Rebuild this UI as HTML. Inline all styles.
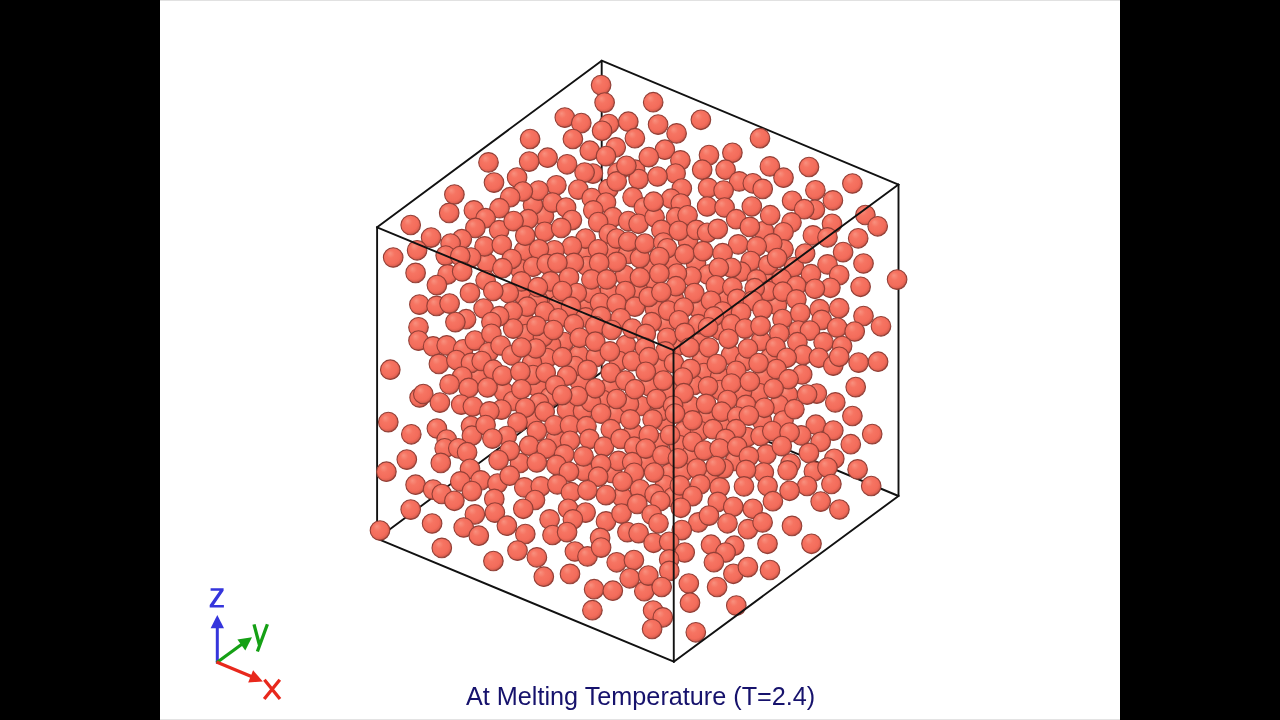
<!DOCTYPE html>
<html><head><meta charset="utf-8"><style>
html,body{margin:0;padding:0;background:#000;width:1280px;height:720px;overflow:hidden}
#v{position:absolute;left:160px;top:0;width:960px;height:718px;background:#fff;border-top:1px solid #e1e1e1;border-bottom:1px solid #e3e3e3}
svg{position:absolute;left:0;top:0}
#w{position:absolute;left:0;top:0;width:1280px;height:720px;filter:blur(0.4px)}
#cap{position:absolute;left:466px;top:681px;font-family:"Liberation Sans",sans-serif;font-size:25.5px;line-height:30px;color:#16126c;white-space:nowrap;transform:scaleX(0.989);transform-origin:0 0}
</style></head><body>
<div id="w"><div id="v"></div>
<svg width="1280" height="720" viewBox="0 0 1280 720">
<defs>
<radialGradient id="g" cx="0.45" cy="0.42" r="0.58" fx="0.33" fy="0.28">
<stop offset="0" stop-color="#f8917f"/>
<stop offset="0.35" stop-color="#f67462"/>
<stop offset="0.75" stop-color="#f36c5b"/>
<stop offset="0.9" stop-color="#e06151"/>
<stop offset="1" stop-color="#9a443a"/>
</radialGradient>
</defs>
<g stroke="#111" stroke-width="1.9" stroke-linecap="round"><line x1="601.7" y1="60.7" x2="377.1" y2="227.3"/><line x1="601.7" y1="60.7" x2="898.5" y2="184.6"/><line x1="601.7" y1="60.7" x2="601.7" y2="372.1"/><line x1="601.7" y1="372.1" x2="377.1" y2="538.7"/><line x1="601.7" y1="372.1" x2="898.5" y2="496.0"/></g>
<g fill="url(#g)" stroke="#923f36" stroke-width="1.1"><circle cx="626" cy="345" r="9.8"/><circle cx="641" cy="406" r="9.8"/><circle cx="579" cy="355" r="9.8"/><circle cx="504" cy="392" r="9.8"/><circle cx="731" cy="355" r="9.8"/><circle cx="564" cy="342" r="9.8"/><circle cx="537" cy="387" r="9.8"/><circle cx="567" cy="410" r="9.8"/><circle cx="583" cy="411" r="9.8"/><circle cx="670" cy="473" r="9.8"/><circle cx="788" cy="395" r="9.8"/><circle cx="625" cy="275" r="9.8"/><circle cx="596" cy="357" r="9.8"/><circle cx="699" cy="309" r="9.8"/><circle cx="761" cy="341" r="9.8"/><circle cx="551" cy="345" r="9.8"/><circle cx="547" cy="358" r="9.8"/><circle cx="532" cy="363" r="9.8"/><circle cx="764" cy="377" r="9.8"/><circle cx="759" cy="393" r="9.8"/><circle cx="779" cy="405" r="9.8"/><circle cx="616" cy="414" r="9.8"/><circle cx="584" cy="471" r="9.8"/><circle cx="524" cy="251" r="9.8"/><circle cx="549" cy="297" r="9.8"/><circle cx="777" cy="305" r="9.8"/><circle cx="702" cy="360" r="9.8"/><circle cx="649" cy="386" r="9.8"/><circle cx="691" cy="406" r="9.8"/><circle cx="660" cy="366" r="9.8"/><circle cx="684" cy="431" r="9.8"/><circle cx="735" cy="461" r="9.8"/><circle cx="585" cy="254" r="9.8"/><circle cx="696" cy="263" r="9.8"/><circle cx="704" cy="373" r="9.8"/><circle cx="580" cy="382" r="9.8"/><circle cx="610" cy="387" r="9.8"/><circle cx="513" cy="401" r="9.8"/><circle cx="612" cy="473" r="9.8"/><circle cx="665" cy="485" r="9.8"/><circle cx="586" cy="304" r="9.8"/><circle cx="524" cy="320" r="9.8"/><circle cx="666" cy="324" r="9.8"/><circle cx="699" cy="338" r="9.8"/><circle cx="603" cy="400" r="9.8"/><circle cx="762" cy="421" r="9.8"/><circle cx="633" cy="433" r="9.8"/><circle cx="683" cy="472" r="9.8"/><circle cx="688" cy="241" r="9.8"/><circle cx="609" cy="293" r="9.8"/><circle cx="724" cy="297" r="9.8"/><circle cx="655" cy="309" r="9.8"/><circle cx="526" cy="334" r="9.8"/><circle cx="619" cy="361" r="9.8"/><circle cx="720" cy="377" r="9.8"/><circle cx="694" cy="385" r="9.8"/><circle cx="670" cy="392" r="9.8"/><circle cx="742" cy="392" r="9.8"/><circle cx="591" cy="402" r="9.8"/><circle cx="747" cy="437" r="9.8"/><circle cx="556" cy="439" r="9.8"/><circle cx="679" cy="445" r="9.8"/><circle cx="691" cy="455" r="9.8"/><circle cx="646" cy="462" r="9.8"/><circle cx="673" cy="260" r="9.8"/><circle cx="591" cy="293" r="9.8"/><circle cx="558" cy="305" r="9.8"/><circle cx="629" cy="404" r="9.8"/><circle cx="708" cy="417" r="9.8"/><circle cx="532" cy="419" r="9.8"/><circle cx="673" cy="497" r="9.8"/><circle cx="611" cy="250" r="9.8"/><circle cx="628" cy="254" r="9.8"/><circle cx="587" cy="266" r="9.8"/><circle cx="522" cy="294" r="9.8"/><circle cx="674" cy="299" r="9.8"/><circle cx="745" cy="361" r="9.8"/><circle cx="533" cy="375" r="9.8"/><circle cx="665" cy="422" r="9.8"/><circle cx="650" cy="266" r="9.8"/><circle cx="520" cy="269" r="9.8"/><circle cx="769" cy="278" r="9.8"/><circle cx="652" cy="283" r="9.8"/><circle cx="638" cy="290" r="9.8"/><circle cx="538" cy="300" r="9.8"/><circle cx="720" cy="330" r="9.8"/><circle cx="543" cy="337" r="9.8"/><circle cx="677" cy="346" r="9.8"/><circle cx="770" cy="358" r="9.8"/><circle cx="575" cy="366" r="9.8"/><circle cx="720" cy="390" r="9.8"/><circle cx="550" cy="397" r="9.8"/><circle cx="661" cy="411" r="9.8"/><circle cx="725" cy="424" r="9.8"/><circle cx="700" cy="431" r="9.8"/><circle cx="659" cy="443" r="9.8"/><circle cx="710" cy="477" r="9.8"/><circle cx="794" cy="267" r="9.8"/><circle cx="520" cy="463" r="9.8"/><circle cx="487" cy="263" r="9.8"/><circle cx="544" cy="216" r="9.8"/><circle cx="622" cy="497" r="9.8"/><circle cx="533" cy="205" r="9.8"/><circle cx="764" cy="231" r="9.8"/><circle cx="478" cy="376" r="9.8"/><circle cx="601.1" cy="85.1" r="9.8"/><circle cx="604.6" cy="102.6" r="9.8"/><circle cx="564.8" cy="117.6" r="9.8"/><circle cx="581.3" cy="123.1" r="9.8"/><circle cx="608.9" cy="124" r="9.8"/><circle cx="628.3" cy="121.7" r="9.8"/><circle cx="602.1" cy="130.8" r="9.8"/><circle cx="572.9" cy="139" r="9.8"/><circle cx="530.1" cy="139" r="9.8"/><circle cx="634.9" cy="138.2" r="9.8"/><circle cx="589.8" cy="150.7" r="9.8"/><circle cx="615.7" cy="147.4" r="9.8"/><circle cx="606" cy="156.1" r="9.8"/><circle cx="547.6" cy="157.7" r="9.8"/><circle cx="529.2" cy="161.6" r="9.8"/><circle cx="567.1" cy="164.3" r="9.8"/><circle cx="517.1" cy="177.5" r="9.8"/><circle cx="494" cy="182.6" r="9.8"/><circle cx="592.9" cy="173.6" r="9.8"/><circle cx="584.6" cy="172.6" r="9.8"/><circle cx="617.6" cy="172.6" r="9.8"/><circle cx="635.1" cy="169.7" r="9.8"/><circle cx="638.6" cy="179.1" r="9.8"/><circle cx="556.4" cy="185.3" r="9.8"/><circle cx="538.6" cy="190.6" r="9.8"/><circle cx="522.8" cy="191.5" r="9.8"/><circle cx="510.2" cy="197.2" r="9.8"/><circle cx="578.3" cy="189.6" r="9.8"/><circle cx="608.4" cy="188.9" r="9.8"/><circle cx="616.7" cy="181.4" r="9.8"/><circle cx="591.7" cy="198.1" r="9.8"/><circle cx="626.4" cy="165.8" r="9.8"/><circle cx="632.6" cy="197.2" r="9.8"/><circle cx="488.5" cy="162.4" r="9.8"/><circle cx="454.4" cy="194.5" r="9.8"/><circle cx="449.2" cy="212.9" r="9.8"/><circle cx="473.9" cy="210.4" r="9.8"/><circle cx="499.5" cy="208.2" r="9.8"/><circle cx="485.6" cy="218.2" r="9.8"/><circle cx="410.7" cy="225" r="9.8"/><circle cx="475.4" cy="227.9" r="9.8"/><circle cx="431.1" cy="237.6" r="9.8"/><circle cx="461.8" cy="239.2" r="9.8"/><circle cx="450.6" cy="243.5" r="9.8"/><circle cx="484.6" cy="246.4" r="9.8"/><circle cx="499.2" cy="230.2" r="9.8"/><circle cx="501.8" cy="244.8" r="9.8"/><circle cx="417.1" cy="250.3" r="9.8"/><circle cx="393.2" cy="257.5" r="9.8"/><circle cx="445.7" cy="255.6" r="9.8"/><circle cx="471" cy="257.5" r="9.8"/><circle cx="460.3" cy="256.1" r="9.8"/><circle cx="653.2" cy="102.2" r="9.8"/><circle cx="700.9" cy="119.8" r="9.8"/><circle cx="658.1" cy="124.6" r="9.8"/><circle cx="676.6" cy="133.4" r="9.8"/><circle cx="760" cy="138.2" r="9.8"/><circle cx="664.9" cy="149.7" r="9.8"/><circle cx="709" cy="155.1" r="9.8"/><circle cx="732.4" cy="152.8" r="9.8"/><circle cx="648.8" cy="157.1" r="9.8"/><circle cx="680.4" cy="160.4" r="9.8"/><circle cx="702.2" cy="169.7" r="9.8"/><circle cx="725.6" cy="169.7" r="9.8"/><circle cx="769.9" cy="166.4" r="9.8"/><circle cx="675.6" cy="173.6" r="9.8"/><circle cx="657.5" cy="176.5" r="9.8"/><circle cx="783.5" cy="177.7" r="9.8"/><circle cx="739.2" cy="181.4" r="9.8"/><circle cx="752.8" cy="183.3" r="9.8"/><circle cx="708.1" cy="187.9" r="9.8"/><circle cx="723.6" cy="190.6" r="9.8"/><circle cx="762.7" cy="188.9" r="9.8"/><circle cx="681.8" cy="188.5" r="9.8"/><circle cx="671.1" cy="198.7" r="9.8"/><circle cx="809" cy="167" r="9.8"/><circle cx="852.4" cy="183.5" r="9.8"/><circle cx="815.4" cy="190.3" r="9.8"/><circle cx="792.1" cy="200.8" r="9.8"/><circle cx="832.9" cy="200.4" r="9.8"/><circle cx="814.9" cy="209.8" r="9.8"/><circle cx="804.2" cy="209.2" r="9.8"/><circle cx="770.2" cy="215.2" r="9.8"/><circle cx="865.4" cy="215" r="9.8"/><circle cx="791.5" cy="222.4" r="9.8"/><circle cx="832" cy="223.8" r="9.8"/><circle cx="877.7" cy="226.3" r="9.8"/><circle cx="783.5" cy="232.3" r="9.8"/><circle cx="812.9" cy="235.4" r="9.8"/><circle cx="827.5" cy="237.4" r="9.8"/><circle cx="858.2" cy="238.3" r="9.8"/><circle cx="783.5" cy="249.4" r="9.8"/><circle cx="805.1" cy="253.5" r="9.8"/><circle cx="843.1" cy="252.1" r="9.8"/><circle cx="772.3" cy="243.4" r="9.8"/><circle cx="552.5" cy="202.6" r="9.8"/><circle cx="566.1" cy="207.5" r="9.8"/><circle cx="606" cy="202.6" r="9.8"/><circle cx="643.9" cy="207.6" r="9.8"/><circle cx="593.3" cy="210.4" r="9.8"/><circle cx="612.8" cy="217.2" r="9.8"/><circle cx="528.2" cy="219.2" r="9.8"/><circle cx="513.6" cy="221.1" r="9.8"/><circle cx="571.9" cy="220.1" r="9.8"/><circle cx="598.2" cy="222.1" r="9.8"/><circle cx="628.3" cy="221.1" r="9.8"/><circle cx="638.6" cy="223.8" r="9.8"/><circle cx="525.3" cy="235.7" r="9.8"/><circle cx="544.7" cy="231.8" r="9.8"/><circle cx="561.2" cy="227.9" r="9.8"/><circle cx="585.6" cy="238.6" r="9.8"/><circle cx="608.9" cy="233.8" r="9.8"/><circle cx="616.7" cy="238.6" r="9.8"/><circle cx="628.3" cy="241.5" r="9.8"/><circle cx="598.2" cy="249.3" r="9.8"/><circle cx="571.9" cy="246.4" r="9.8"/><circle cx="554.4" cy="250.3" r="9.8"/><circle cx="538.9" cy="249.3" r="9.8"/><circle cx="511.7" cy="259" r="9.8"/><circle cx="533.1" cy="266.8" r="9.8"/><circle cx="546.7" cy="263.9" r="9.8"/><circle cx="573.9" cy="262.9" r="9.8"/><circle cx="557.4" cy="262.9" r="9.8"/><circle cx="616.7" cy="261.9" r="9.8"/><circle cx="599.2" cy="262.9" r="9.8"/><circle cx="640" cy="258.1" r="9.8"/><circle cx="502.5" cy="268.2" r="9.8"/><circle cx="521.4" cy="281.4" r="9.8"/><circle cx="550.6" cy="281.4" r="9.8"/><circle cx="569" cy="277.5" r="9.8"/><circle cx="591.4" cy="279.4" r="9.8"/><circle cx="606.9" cy="279.4" r="9.8"/><circle cx="640" cy="277.5" r="9.8"/><circle cx="537.9" cy="287.2" r="9.8"/><circle cx="508.8" cy="293.1" r="9.8"/><circle cx="576.8" cy="293.1" r="9.8"/><circle cx="625.4" cy="291.1" r="9.8"/><circle cx="562.2" cy="291.1" r="9.8"/><circle cx="600.1" cy="302.8" r="9.8"/><circle cx="616.7" cy="303.8" r="9.8"/><circle cx="634.9" cy="306.7" r="9.8"/><circle cx="527.2" cy="306.7" r="9.8"/><circle cx="544.7" cy="311.5" r="9.8"/><circle cx="512.6" cy="311.5" r="9.8"/><circle cx="571" cy="306.7" r="9.8"/><circle cx="585.6" cy="317.4" r="9.8"/><circle cx="558.3" cy="318.3" r="9.8"/><circle cx="601.1" cy="316.4" r="9.8"/><circle cx="620.6" cy="318.3" r="9.8"/><circle cx="536.6" cy="325.9" r="9.8"/><circle cx="513.2" cy="328.6" r="9.8"/><circle cx="553.5" cy="330" r="9.8"/><circle cx="573.9" cy="324.2" r="9.8"/><circle cx="595.3" cy="326.1" r="9.8"/><circle cx="611.8" cy="330" r="9.8"/><circle cx="632.2" cy="328.6" r="9.8"/><circle cx="654.6" cy="217.2" r="9.8"/><circle cx="653.6" cy="201.7" r="9.8"/><circle cx="680.8" cy="203.6" r="9.8"/><circle cx="676" cy="217.2" r="9.8"/><circle cx="687.6" cy="215.3" r="9.8"/><circle cx="707.1" cy="206.5" r="9.8"/><circle cx="724.6" cy="207.5" r="9.8"/><circle cx="736.2" cy="219.2" r="9.8"/><circle cx="751.8" cy="206.5" r="9.8"/><circle cx="661.4" cy="229.9" r="9.8"/><circle cx="678.9" cy="230.8" r="9.8"/><circle cx="696.4" cy="229.9" r="9.8"/><circle cx="707.1" cy="232.8" r="9.8"/><circle cx="717.8" cy="228.9" r="9.8"/><circle cx="749.9" cy="226.9" r="9.8"/><circle cx="738.2" cy="244.4" r="9.8"/><circle cx="756.7" cy="246.4" r="9.8"/><circle cx="644.9" cy="243.5" r="9.8"/><circle cx="663.3" cy="242.5" r="9.8"/><circle cx="667.2" cy="248.3" r="9.8"/><circle cx="684.7" cy="254.2" r="9.8"/><circle cx="703.2" cy="251.2" r="9.8"/><circle cx="722.6" cy="253.2" r="9.8"/><circle cx="750.8" cy="261" r="9.8"/><circle cx="768.3" cy="264.9" r="9.8"/><circle cx="777.1" cy="258.1" r="9.8"/><circle cx="659.4" cy="257.1" r="9.8"/><circle cx="741.1" cy="271.7" r="9.8"/><circle cx="731.4" cy="267.8" r="9.8"/><circle cx="708.1" cy="274.6" r="9.8"/><circle cx="691.5" cy="276.5" r="9.8"/><circle cx="676.9" cy="273.6" r="9.8"/><circle cx="659.4" cy="273.6" r="9.8"/><circle cx="718.8" cy="267.8" r="9.8"/><circle cx="781.4" cy="278.7" r="9.8"/><circle cx="756.7" cy="279.4" r="9.8"/><circle cx="676" cy="286.2" r="9.8"/><circle cx="715.8" cy="285.3" r="9.8"/><circle cx="732.4" cy="287.2" r="9.8"/><circle cx="768.3" cy="291.1" r="9.8"/><circle cx="754.7" cy="288.2" r="9.8"/><circle cx="694.4" cy="293.1" r="9.8"/><circle cx="648.8" cy="296.9" r="9.8"/><circle cx="661.4" cy="292.1" r="9.8"/><circle cx="711" cy="300.8" r="9.8"/><circle cx="737.2" cy="298.9" r="9.8"/><circle cx="752.8" cy="300.8" r="9.8"/><circle cx="668.2" cy="310.6" r="9.8"/><circle cx="683.8" cy="307.6" r="9.8"/><circle cx="722.6" cy="311.5" r="9.8"/><circle cx="762.5" cy="309.6" r="9.8"/><circle cx="741.1" cy="312.5" r="9.8"/><circle cx="782.5" cy="319" r="9.8"/><circle cx="651.7" cy="322.2" r="9.8"/><circle cx="678.9" cy="320.3" r="9.8"/><circle cx="698.3" cy="324.2" r="9.8"/><circle cx="713.9" cy="316.4" r="9.8"/><circle cx="731.4" cy="324.2" r="9.8"/><circle cx="745" cy="328.6" r="9.8"/><circle cx="760.6" cy="325.9" r="9.8"/><circle cx="708.1" cy="327.3" r="9.8"/><circle cx="827.5" cy="264.4" r="9.8"/><circle cx="863.5" cy="263.5" r="9.8"/><circle cx="811" cy="274.2" r="9.8"/><circle cx="839.2" cy="275.1" r="9.8"/><circle cx="796.4" cy="285.8" r="9.8"/><circle cx="830.4" cy="287.8" r="9.8"/><circle cx="814.9" cy="288.8" r="9.8"/><circle cx="860.6" cy="286.8" r="9.8"/><circle cx="782.8" cy="291.7" r="9.8"/><circle cx="796.4" cy="299.4" r="9.8"/><circle cx="819.7" cy="309.2" r="9.8"/><circle cx="839.2" cy="308.2" r="9.8"/><circle cx="863.5" cy="316" r="9.8"/><circle cx="881" cy="326.3" r="9.8"/><circle cx="800.3" cy="313.1" r="9.8"/><circle cx="821.7" cy="319.9" r="9.8"/><circle cx="837.2" cy="327.6" r="9.8"/><circle cx="854.7" cy="331.5" r="9.8"/><circle cx="798.3" cy="330.6" r="9.8"/><circle cx="810" cy="330.6" r="9.8"/><circle cx="779.4" cy="333.6" r="9.8"/><circle cx="823.6" cy="342.2" r="9.8"/><circle cx="842.1" cy="346.1" r="9.8"/><circle cx="775.6" cy="347.1" r="9.8"/><circle cx="797.4" cy="342.2" r="9.8"/><circle cx="803.2" cy="354.9" r="9.8"/><circle cx="818.8" cy="357.8" r="9.8"/><circle cx="786.7" cy="357.8" r="9.8"/><circle cx="833.3" cy="365.6" r="9.8"/><circle cx="839.2" cy="356.8" r="9.8"/><circle cx="858.6" cy="362.6" r="9.8"/><circle cx="878.1" cy="361.7" r="9.8"/><circle cx="776.5" cy="369.1" r="9.8"/><circle cx="802.2" cy="374.5" r="9.8"/><circle cx="788.6" cy="379.2" r="9.8"/><circle cx="855.7" cy="387.1" r="9.8"/><circle cx="816.8" cy="393.6" r="9.8"/><circle cx="415.6" cy="272.9" r="9.8"/><circle cx="447.6" cy="274.4" r="9.8"/><circle cx="462.2" cy="271.5" r="9.8"/><circle cx="436.9" cy="285.1" r="9.8"/><circle cx="485.6" cy="280.3" r="9.8"/><circle cx="470" cy="292.9" r="9.8"/><circle cx="493.3" cy="291" r="9.8"/><circle cx="419.4" cy="304.6" r="9.8"/><circle cx="436.6" cy="305.9" r="9.8"/><circle cx="449.6" cy="303.6" r="9.8"/><circle cx="483.6" cy="308.5" r="9.8"/><circle cx="466.1" cy="319.2" r="9.8"/><circle cx="455.4" cy="322.1" r="9.8"/><circle cx="499.2" cy="316.2" r="9.8"/><circle cx="418.5" cy="327.3" r="9.8"/><circle cx="491.4" cy="322.1" r="9.8"/><circle cx="418.5" cy="340.6" r="9.8"/><circle cx="433.1" cy="346.4" r="9.8"/><circle cx="446.7" cy="345.4" r="9.8"/><circle cx="463.2" cy="349.3" r="9.8"/><circle cx="474.9" cy="340.6" r="9.8"/><circle cx="491.4" cy="333.8" r="9.8"/><circle cx="488.5" cy="352.2" r="9.8"/><circle cx="438.9" cy="363.9" r="9.8"/><circle cx="456.4" cy="360" r="9.8"/><circle cx="471" cy="362.9" r="9.8"/><circle cx="481.7" cy="361" r="9.8"/><circle cx="500.6" cy="345.5" r="9.8"/><circle cx="390.3" cy="369.7" r="9.8"/><circle cx="493.3" cy="369.7" r="9.8"/><circle cx="462.2" cy="376.5" r="9.8"/><circle cx="449.6" cy="384.4" r="9.8"/><circle cx="468.7" cy="387.9" r="9.8"/><circle cx="487.5" cy="387.5" r="9.8"/><circle cx="419.6" cy="397.5" r="9.8"/><circle cx="502.5" cy="375.6" r="9.8"/><circle cx="423.3" cy="394" r="9.8"/><circle cx="439.9" cy="402.6" r="9.8"/><circle cx="579.7" cy="337.8" r="9.8"/><circle cx="595.3" cy="341.7" r="9.8"/><circle cx="511.7" cy="355.3" r="9.8"/><circle cx="536" cy="348.5" r="9.8"/><circle cx="562.2" cy="357.2" r="9.8"/><circle cx="609.9" cy="351.4" r="9.8"/><circle cx="632.2" cy="361.1" r="9.8"/><circle cx="521.4" cy="347.5" r="9.8"/><circle cx="545.7" cy="372.8" r="9.8"/><circle cx="520.4" cy="371.8" r="9.8"/><circle cx="567.1" cy="375.7" r="9.8"/><circle cx="587.5" cy="369.9" r="9.8"/><circle cx="610.8" cy="372.8" r="9.8"/><circle cx="625.4" cy="380.6" r="9.8"/><circle cx="521.4" cy="389.3" r="9.8"/><circle cx="538.9" cy="402.9" r="9.8"/><circle cx="555.4" cy="385.4" r="9.8"/><circle cx="595.3" cy="388.3" r="9.8"/><circle cx="577.8" cy="396.1" r="9.8"/><circle cx="562.2" cy="395.1" r="9.8"/><circle cx="616.7" cy="399" r="9.8"/><circle cx="634.9" cy="389.2" r="9.8"/><circle cx="501.5" cy="409.6" r="9.8"/><circle cx="525.3" cy="407.8" r="9.8"/><circle cx="544.7" cy="411.7" r="9.8"/><circle cx="601.1" cy="413.6" r="9.8"/><circle cx="630.3" cy="419.4" r="9.8"/><circle cx="517.5" cy="422.4" r="9.8"/><circle cx="554.4" cy="425.3" r="9.8"/><circle cx="570" cy="425.3" r="9.8"/><circle cx="586.5" cy="426.2" r="9.8"/><circle cx="610.8" cy="429.2" r="9.8"/><circle cx="536.9" cy="431.1" r="9.8"/><circle cx="506.8" cy="436" r="9.8"/><circle cx="529.2" cy="445.7" r="9.8"/><circle cx="546.7" cy="448.6" r="9.8"/><circle cx="570" cy="440.8" r="9.8"/><circle cx="589.4" cy="438.9" r="9.8"/><circle cx="604" cy="446.7" r="9.8"/><circle cx="620.6" cy="438.9" r="9.8"/><circle cx="634.2" cy="446.7" r="9.8"/><circle cx="509.7" cy="450.6" r="9.8"/><circle cx="564.2" cy="454.4" r="9.8"/><circle cx="583.6" cy="456.4" r="9.8"/><circle cx="618.5" cy="460.9" r="9.8"/><circle cx="536.8" cy="462.5" r="9.8"/><circle cx="556.4" cy="464.9" r="9.8"/><circle cx="498.6" cy="460.1" r="9.8"/><circle cx="601.1" cy="464.2" r="9.8"/><circle cx="632.2" cy="462.2" r="9.8"/><circle cx="645.8" cy="333.9" r="9.8"/><circle cx="667.2" cy="337.8" r="9.8"/><circle cx="684.7" cy="332.9" r="9.8"/><circle cx="728.5" cy="338.8" r="9.8"/><circle cx="644.9" cy="347.5" r="9.8"/><circle cx="665.3" cy="351.4" r="9.8"/><circle cx="689.6" cy="347.5" r="9.8"/><circle cx="709" cy="347.5" r="9.8"/><circle cx="747.9" cy="348.5" r="9.8"/><circle cx="648.8" cy="357.2" r="9.8"/><circle cx="674" cy="363.1" r="9.8"/><circle cx="690.6" cy="368.9" r="9.8"/><circle cx="716.8" cy="364" r="9.8"/><circle cx="736.2" cy="370.8" r="9.8"/><circle cx="758.6" cy="363.1" r="9.8"/><circle cx="645.8" cy="371.8" r="9.8"/><circle cx="663.3" cy="380.6" r="9.8"/><circle cx="682.8" cy="377.6" r="9.8"/><circle cx="708.1" cy="386.4" r="9.8"/><circle cx="731.4" cy="383.5" r="9.8"/><circle cx="749.9" cy="381.5" r="9.8"/><circle cx="773.6" cy="388.6" r="9.8"/><circle cx="656.5" cy="399" r="9.8"/><circle cx="683.8" cy="393.2" r="9.8"/><circle cx="706.1" cy="403.9" r="9.8"/><circle cx="727.5" cy="400" r="9.8"/><circle cx="746" cy="404.9" r="9.8"/><circle cx="764.4" cy="407.8" r="9.8"/><circle cx="673.1" cy="405.8" r="9.8"/><circle cx="652.6" cy="419.4" r="9.8"/><circle cx="692.5" cy="420.4" r="9.8"/><circle cx="721.7" cy="411.7" r="9.8"/><circle cx="737.2" cy="416.5" r="9.8"/><circle cx="748.9" cy="415.6" r="9.8"/><circle cx="783.5" cy="420.6" r="9.8"/><circle cx="675" cy="413.6" r="9.8"/><circle cx="712.9" cy="429.2" r="9.8"/><circle cx="736.2" cy="429.2" r="9.8"/><circle cx="760.6" cy="436" r="9.8"/><circle cx="772.3" cy="431.1" r="9.8"/><circle cx="648.8" cy="435" r="9.8"/><circle cx="670.1" cy="435" r="9.8"/><circle cx="692.5" cy="441.8" r="9.8"/><circle cx="725.6" cy="438.9" r="9.8"/><circle cx="645.8" cy="448.6" r="9.8"/><circle cx="662.4" cy="455.4" r="9.8"/><circle cx="704.2" cy="450.6" r="9.8"/><circle cx="719.7" cy="448.6" r="9.8"/><circle cx="737.2" cy="446.7" r="9.8"/><circle cx="766.4" cy="454.4" r="9.8"/><circle cx="748.9" cy="456.4" r="9.8"/><circle cx="677.9" cy="458.3" r="9.8"/><circle cx="696.9" cy="468.6" r="9.8"/><circle cx="723.6" cy="468.6" r="9.8"/><circle cx="763.8" cy="472.5" r="9.8"/><circle cx="654.1" cy="472.5" r="9.8"/><circle cx="715.8" cy="466.1" r="9.8"/><circle cx="807.1" cy="394.6" r="9.8"/><circle cx="835.3" cy="402.4" r="9.8"/><circle cx="794.4" cy="409.2" r="9.8"/><circle cx="852.4" cy="416" r="9.8"/><circle cx="815.8" cy="424.7" r="9.8"/><circle cx="833.3" cy="430.6" r="9.8"/><circle cx="801.2" cy="435.4" r="9.8"/><circle cx="789.6" cy="432.5" r="9.8"/><circle cx="872.2" cy="434.1" r="9.8"/><circle cx="820.7" cy="441.8" r="9.8"/><circle cx="850.8" cy="444.2" r="9.8"/><circle cx="781.8" cy="446.1" r="9.8"/><circle cx="809" cy="452.9" r="9.8"/><circle cx="834.3" cy="458.8" r="9.8"/><circle cx="790.6" cy="463.6" r="9.8"/><circle cx="787.6" cy="470.4" r="9.8"/><circle cx="813.9" cy="471.4" r="9.8"/><circle cx="827.5" cy="467.5" r="9.8"/><circle cx="857.6" cy="469.4" r="9.8"/><circle cx="807.1" cy="486" r="9.8"/><circle cx="831.4" cy="484" r="9.8"/><circle cx="871.2" cy="486" r="9.8"/><circle cx="767.6" cy="486" r="9.8"/><circle cx="789.6" cy="490.8" r="9.8"/><circle cx="820.7" cy="501.6" r="9.8"/><circle cx="839.4" cy="509.5" r="9.8"/><circle cx="772.9" cy="501.2" r="9.8"/><circle cx="792" cy="525.9" r="9.8"/><circle cx="461.2" cy="404.6" r="9.8"/><circle cx="472.9" cy="406.5" r="9.8"/><circle cx="489.4" cy="411.4" r="9.8"/><circle cx="388.3" cy="422.1" r="9.8"/><circle cx="411.3" cy="434.3" r="9.8"/><circle cx="436.9" cy="428.5" r="9.8"/><circle cx="446.7" cy="439.6" r="9.8"/><circle cx="471" cy="426" r="9.8"/><circle cx="471.9" cy="435.7" r="9.8"/><circle cx="485.6" cy="425" r="9.8"/><circle cx="492.4" cy="438.6" r="9.8"/><circle cx="444.7" cy="448.3" r="9.8"/><circle cx="458.3" cy="448.3" r="9.8"/><circle cx="467.1" cy="452.2" r="9.8"/><circle cx="406.8" cy="459.6" r="9.8"/><circle cx="440.8" cy="462.9" r="9.8"/><circle cx="470" cy="468.8" r="9.8"/><circle cx="460.3" cy="481.4" r="9.8"/><circle cx="480.7" cy="480.4" r="9.8"/><circle cx="497.5" cy="483.5" r="9.8"/><circle cx="415.6" cy="484.7" r="9.8"/><circle cx="433.1" cy="489.6" r="9.8"/><circle cx="441.8" cy="494" r="9.8"/><circle cx="471.9" cy="491.1" r="9.8"/><circle cx="454.4" cy="500.8" r="9.8"/><circle cx="494.3" cy="498.9" r="9.8"/><circle cx="410.7" cy="509.6" r="9.8"/><circle cx="474.9" cy="514.4" r="9.8"/><circle cx="494.9" cy="512.6" r="9.8"/><circle cx="432.1" cy="523.5" r="9.8"/><circle cx="463.7" cy="527.5" r="9.8"/><circle cx="506.9" cy="525.7" r="9.8"/><circle cx="509.7" cy="475.7" r="9.8"/><circle cx="569" cy="471.8" r="9.8"/><circle cx="598.2" cy="476.7" r="9.8"/><circle cx="634.2" cy="472.8" r="9.8"/><circle cx="524.3" cy="487.4" r="9.8"/><circle cx="540.8" cy="486.4" r="9.8"/><circle cx="557.4" cy="484.4" r="9.8"/><circle cx="571" cy="492.2" r="9.8"/><circle cx="587.5" cy="490.3" r="9.8"/><circle cx="606" cy="495.1" r="9.8"/><circle cx="622.5" cy="481.5" r="9.8"/><circle cx="640" cy="489.3" r="9.8"/><circle cx="535" cy="500" r="9.8"/><circle cx="523.3" cy="508.8" r="9.8"/><circle cx="568.1" cy="508.8" r="9.8"/><circle cx="585.6" cy="512.6" r="9.8"/><circle cx="606" cy="521.4" r="9.8"/><circle cx="621.5" cy="513.6" r="9.8"/><circle cx="637.3" cy="503.9" r="9.8"/><circle cx="549.6" cy="519.4" r="9.8"/><circle cx="572.9" cy="519.4" r="9.8"/><circle cx="525.3" cy="534" r="9.8"/><circle cx="552.5" cy="535" r="9.8"/><circle cx="567.1" cy="532.1" r="9.8"/><circle cx="600.1" cy="537.9" r="9.8"/><circle cx="627.4" cy="532.1" r="9.8"/><circle cx="638.6" cy="533.1" r="9.8"/><circle cx="517.5" cy="550.6" r="9.8"/><circle cx="574.9" cy="551.5" r="9.8"/><circle cx="587.5" cy="556.4" r="9.8"/><circle cx="601.1" cy="547.6" r="9.8"/><circle cx="536.9" cy="557.4" r="9.8"/><circle cx="616.7" cy="562.3" r="9.8"/><circle cx="633.9" cy="560" r="9.8"/><circle cx="493.4" cy="561" r="9.8"/><circle cx="543.8" cy="576.7" r="9.8"/><circle cx="570" cy="573.9" r="9.8"/><circle cx="629.7" cy="578.3" r="9.8"/><circle cx="594.1" cy="589.2" r="9.8"/><circle cx="612.8" cy="590.7" r="9.8"/><circle cx="644.3" cy="591.2" r="9.8"/><circle cx="592.4" cy="610.2" r="9.8"/><circle cx="746" cy="469.9" r="9.8"/><circle cx="679.9" cy="485.4" r="9.8"/><circle cx="700.3" cy="484.4" r="9.8"/><circle cx="719.7" cy="487.4" r="9.8"/><circle cx="744" cy="486.4" r="9.8"/><circle cx="654.6" cy="494.2" r="9.8"/><circle cx="692.5" cy="496.1" r="9.8"/><circle cx="660.4" cy="501" r="9.8"/><circle cx="680.8" cy="507.8" r="9.8"/><circle cx="717.8" cy="501.9" r="9.8"/><circle cx="733.3" cy="506.8" r="9.8"/><circle cx="752.8" cy="508.8" r="9.8"/><circle cx="651.7" cy="514.6" r="9.8"/><circle cx="658.5" cy="523.3" r="9.8"/><circle cx="698.3" cy="522.4" r="9.8"/><circle cx="709" cy="515.6" r="9.8"/><circle cx="727.5" cy="523.3" r="9.8"/><circle cx="747.9" cy="529.2" r="9.8"/><circle cx="762.6" cy="522.4" r="9.8"/><circle cx="681.8" cy="530.1" r="9.8"/><circle cx="653.6" cy="542.8" r="9.8"/><circle cx="669.2" cy="541.8" r="9.8"/><circle cx="711" cy="544.7" r="9.8"/><circle cx="734.3" cy="545.7" r="9.8"/><circle cx="767.5" cy="543.8" r="9.8"/><circle cx="684.7" cy="552.5" r="9.8"/><circle cx="725.6" cy="552.5" r="9.8"/><circle cx="669.2" cy="559.4" r="9.8"/><circle cx="713.9" cy="562.2" r="9.8"/><circle cx="733.4" cy="573.8" r="9.8"/><circle cx="747.9" cy="567.1" r="9.8"/><circle cx="770" cy="570" r="9.8"/><circle cx="648.3" cy="575.6" r="9.8"/><circle cx="669.3" cy="570.9" r="9.8"/><circle cx="661.7" cy="587" r="9.8"/><circle cx="688.8" cy="583.5" r="9.8"/><circle cx="717.1" cy="587" r="9.8"/><circle cx="690" cy="602.7" r="9.8"/><circle cx="736.3" cy="605.6" r="9.8"/><circle cx="653.1" cy="610.5" r="9.8"/><circle cx="811.5" cy="543.8" r="9.8"/><circle cx="441.8" cy="547.9" r="9.8"/><circle cx="478.8" cy="535.7" r="9.8"/><circle cx="662.8" cy="617.4" r="9.8"/><circle cx="652.1" cy="629" r="9.8"/><circle cx="695.8" cy="632.3" r="9.8"/></g>
<g stroke="#111" stroke-width="1.9" stroke-linecap="round"><line x1="377.1" y1="227.3" x2="673.5" y2="350.1"/><line x1="898.5" y1="184.6" x2="673.5" y2="350.1"/><line x1="673.5" y1="350.1" x2="673.8" y2="661.7"/><line x1="377.1" y1="227.3" x2="377.1" y2="538.7"/><line x1="898.5" y1="184.6" x2="898.5" y2="496.0"/><line x1="377.1" y1="538.7" x2="673.8" y2="661.7"/><line x1="673.8" y1="661.7" x2="898.5" y2="496.0"/></g>
<g fill="url(#g)" stroke="#923f36" stroke-width="1.1"><circle cx="897.1" cy="279.6" r="9.8"/><circle cx="386.4" cy="471.7" r="9.8"/><circle cx="380" cy="530.5" r="9.8"/></g>
<g id="axes">
<line x1="217.3" y1="663.5" x2="217.3" y2="626" stroke="#3535dc" stroke-width="3"/>
<polygon points="217.3,615 210.6,628.2 224,628.2" fill="#3535dc"/>
<line x1="216.5" y1="662.8" x2="242.5" y2="643.8" stroke="#15a015" stroke-width="3.2"/>
<polygon points="252,637.2 237.4,639.6 245.3,650.4" fill="#15a015"/>
<line x1="216.5" y1="662" x2="252" y2="676.8" stroke="#e8281c" stroke-width="3.2"/>
<polygon points="262.8,681.4 253.1,670.3 248.2,682.6" fill="#e8281c"/>
<path d="M210.6,588.2 H223.6 V590.7 L213.8,605.1 H223.9 V607.6 H209.7 V605.1 L219.6,590.7 H210.6 Z" fill="#3535dc"/>
<path d="M254,624.3 L259.6,645.5 M267.4,624.3 L257.4,651.5" fill="none" stroke="#15a015" stroke-width="3.3"/>
<path d="M264.4,679.7 L280,699 M279.8,679.7 L264.2,699" fill="none" stroke="#e8281c" stroke-width="3.3"/>
</g>
</svg>
<div id="cap">At Melting Temperature (T=2.4)</div>
</div>
</body></html>
